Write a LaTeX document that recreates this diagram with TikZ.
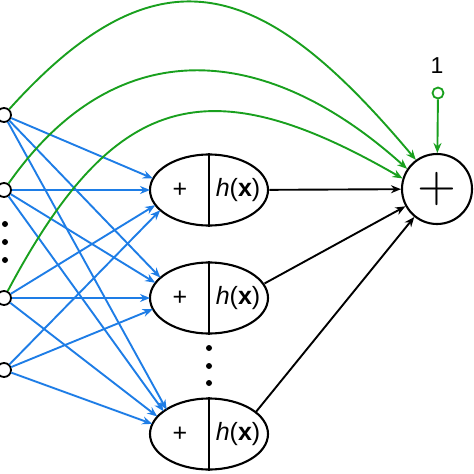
\documentclass[tikz,border=0pt]{standalone}
\usepackage{fontspec}
\setmainfont{Liberation Sans}
\usetikzlibrary{positioning,arrows.meta,shapes.geometric}
\definecolor{wblue}{RGB}{30,125,230}
\definecolor{sgreen}{RGB}{25,160,30}
\tikzset{
  inp/.style={circle, draw, fill=white, line width=1.8pt, minimum size=14pt, inner sep=0pt},
  bias/.style={circle, draw=sgreen, fill=white, line width=1.8pt, minimum size=11pt, inner sep=0pt},
  hid/.style={ellipse, draw, line width=2.1pt, minimum width=118pt, minimum height=71pt, inner sep=0pt},
  plus/.style={ellipse, minimum width=60pt, minimum height=54pt, inner sep=0pt, outer sep=0pt,
               font=\fontsize{25}{27}\selectfont},
  hx/.style={ellipse, minimum width=60pt, minimum height=54pt, inner sep=0pt, outer sep=0pt,
             font=\fontsize{25}{28}\selectfont},
  sum/.style={circle, draw, line width=2.1pt, minimum size=70pt, inner sep=0pt},
  wt/.style={draw=wblue, line width=1.9pt, -{Stealth[length=10pt,width=8pt]}},
  skip/.style={draw=sgreen, line width=1.9pt, -{Stealth[length=10pt,width=8pt]}},
  fw/.style={draw=black, line width=1.9pt, -{Stealth[length=10pt,width=8pt]}},
  vdot/.style={circle, fill, minimum size=6pt, inner sep=0pt},
}

\begin{document}
\begin{tikzpicture}[x=1pt,y=-1pt]
  \useasboundingbox (0,0) rectangle (474,474);
  % inputs
  \node[inp] (x1) at (4,115) {};
  \node[inp] (x2) at (4,190) {};
  \node[inp] (x3) at (4,298) {};
  \node[inp] (x4) at (4,370) {};
  \node[vdot] (d1) at (5,224) {};
  \node[vdot] (d2) at (5,242) {};
  \node[vdot] (d3) at (5,260) {};
  % hidden units
  \node[hid] (h1) at (209,190) {};
  \node[hid] (h2) at (209,298) {};
  \node[hid] (h3) at (209,434) {};
  \draw[line width=2.1pt] (h1.north) -- (h1.south);
  \draw[line width=2.1pt] (h2.north) -- (h2.south);
  \draw[line width=2.1pt] (h3.north) -- (h3.south);
  \node[plus] (p1) at (180,190) {+};
  \node[plus] (p2) at (180,298) {+};
  \node[plus] (p3) at (180,434) {+};
  \node[hx] (f1) at (238,190) {\textit{h}(\textbf{x})};
  \node[hx] (f2) at (238,298) {\textit{h}(\textbf{x})};
  \node[hx] (f3) at (238,434) {\textit{h}(\textbf{x})};
  \node[vdot] (e1) at (209,348) {};
  \node[vdot] (e2) at (209,366) {};
  \node[vdot] (e3) at (209,383) {};
  % output and bias
  \node[sum] (out) at (437,189) {\scalebox{5}{$+$}};
  \node[bias] (b) at (438,93) {};
  \node[font=\fontsize{23}{26}\selectfont] (one) at (437,66) {1};
  % input weights
  \draw[wt] (x1) -- (p1);
  \draw[wt] (x1) -- (p2);
  \draw[wt] (x1) -- (p3);
  \draw[wt] (x2) -- (p1);
  \draw[wt] (x2) -- (p2);
  \draw[wt] (x2) -- (p3);
  \draw[wt] (x3) -- (p1);
  \draw[wt] (x3) -- (p2);
  \draw[wt] (x3) -- (p3);
  \draw[wt] (x4) -- (p1);
  \draw[wt] (x4) -- (p2);
  \draw[wt] (x4) -- (p3);
  % skip connections
  \draw[skip] (x1) to[out=48,in=130,looseness=1.44] (out.126);
  \draw[skip] (x2) to[out=55,in=138,looseness=1.21] (out.146);
  \draw[skip] (x3) to[out=62,in=150,looseness=1.41] (out.163);
  \draw[skip] (b) -- (out);
  % hidden to output
  \draw[fw] (f1) -- (out);
  \draw[fw] (f2) -- (out);
  \draw[fw] (f3) -- (out);
\end{tikzpicture}
\end{document}
